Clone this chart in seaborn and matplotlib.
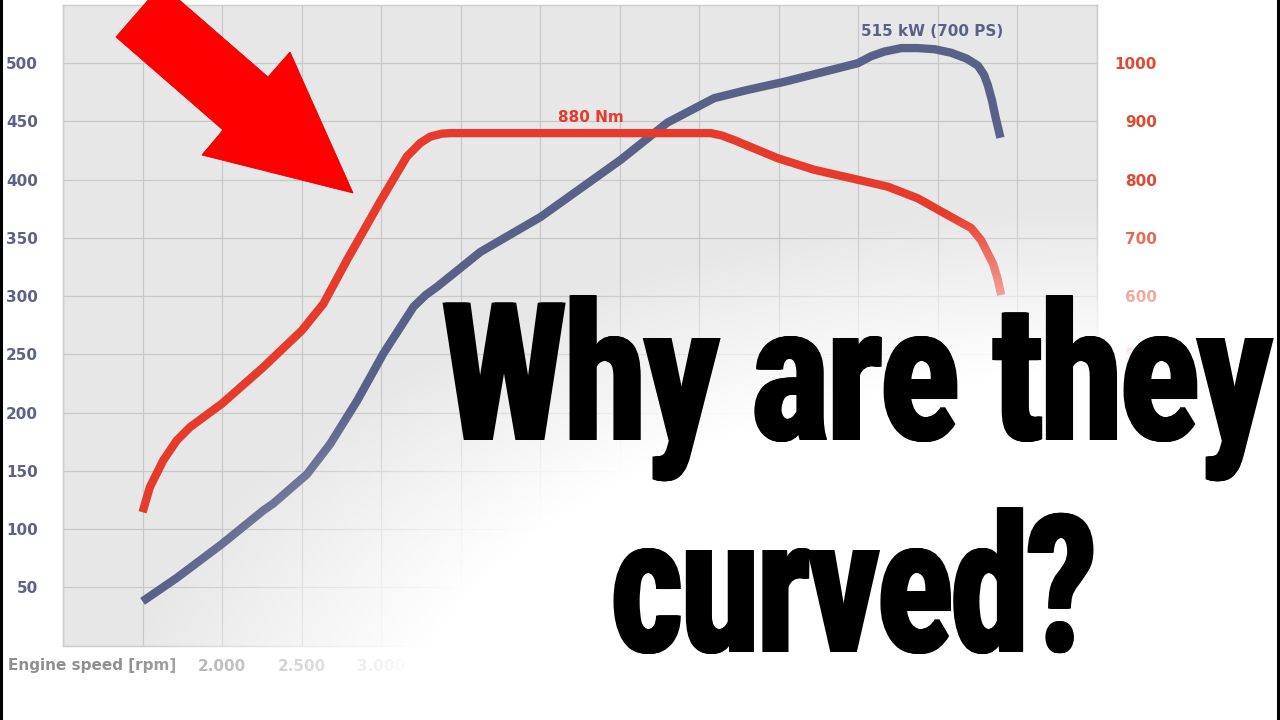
import numpy as np
import matplotlib
matplotlib.use("Agg")
import matplotlib.pyplot as plt
from matplotlib import font_manager
import matplotlib.patheffects as pe
from matplotlib.patches import Polygon, Rectangle
from matplotlib.transforms import Affine2D
import seaborn as sns

# power curve (kW) over engine speed (rpm)
power_rpm = [1500, 1714, 1997, 2259, 2322, 2533, 2679, 2848, 3015, 3204, 3280, 3351, 3624,
             4002, 4505, 4799, 5093, 5300, 5533, 5996, 6080, 6163, 6270, 6374, 6480,
             6583, 6680, 6751, 6790, 6814, 6840, 6860, 6893]
power_kw = [38, 58, 87, 116, 122, 147, 173, 210, 251, 291, 301, 308, 338,
            368, 417, 449, 470, 477, 484, 500, 506, 510, 513, 513, 512,
            509, 504, 498, 490, 481, 468, 455, 436]

# torque curve (Nm) over engine speed (rpm)
torque_rpm = [1500, 1546, 1630, 1714, 1798, 1997, 2259, 2501, 2637, 2785, 2999, 3162, 3246,
              3309, 3380, 3435, 5072, 5140, 5219, 5492, 5723, 5996, 6185, 6374, 6583,
              6709, 6772, 6846, 6875, 6898]
torque_nm = [229, 272, 318, 352, 375, 415, 478, 541, 587, 662, 765, 840, 863,
             874, 879, 880, 880, 876, 868, 837, 817, 800, 788, 768, 736,
             717, 696, 656, 630, 602]

kw_ticks = [50, 100, 150, 200, 250, 300, 350, 400, 450, 500]
nm_ticks = [400, 500, 600, 700, 800, 900, 1000]
rpm_ticks = [1000, 1500, 2000, 2500, 3000, 3500, 4000, 4500, 5000, 5500, 6000, 6500, 7000, 7500]
rpm_labels = ["", "", "2.000", "2.500", "3.000", "3.500", "", "", "", "", "", "", "", ""]

BLUE = "#5a6189"
RED = "#e63b2c"
W, H = 1280, 720

sns.set_style("whitegrid", {"axes.facecolor": "#e7e7e7", "grid.color": "#c8c8c8",
                            "axes.edgecolor": "#cdcdcd"})
plt.rcParams["font.family"] = ["DejaVu Sans"]


def px_rect(x0, y0, x1, y1):
    # picture pixels (y down) -> figure fraction rect
    return [x0 / W, 1 - y1 / H, (x1 - x0) / W, (y1 - y0) / H]


fig = plt.figure(figsize=(12.8, 7.2), dpi=100)
fig.patch.set_facecolor("white")

# --- power axis (left) ---
ax = fig.add_axes(px_rect(63, 5, 1097, 645.6))
ax.set_zorder(1)
sns.lineplot(x=power_rpm, y=power_kw, ax=ax, color=BLUE, linewidth=6,
             solid_capstyle="butt", solid_joinstyle="round")
ax.set_xlim(1000, 7500)
ax.set_ylim(0, 550)
ax.set_xticks(rpm_ticks, labels=rpm_labels)
ax.set_yticks(kw_ticks, labels=[str(v) for v in kw_ticks])
ax.grid(True, color="#c8c8c8", linewidth=0.9)
ax.tick_params(axis="y", length=0, pad=18, labelsize=11, labelcolor="#5d6286")
ax.tick_params(axis="x", length=0, pad=10, labelsize=11, labelcolor="#9c9c9c")
for lab in ax.get_xticklabels() + ax.get_yticklabels():
    lab.set_fontweight("bold")
for s in ax.spines.values():
    s.set_color("#cdcdcd")
    s.set_linewidth(0.9)
ax.set_xlabel("Engine speed [rpm]", fontsize=11, color="#8f8f8f", fontweight="bold",
              ha="left", va="center")
ax.xaxis.set_label_coords(-0.0532, -0.0303)
ax.set_ylabel("")
ax.text(6464, 527, "515 kW (700 PS)", color=BLUE, fontsize=11, fontweight="bold",
        ha="center", va="center")

# --- torque axis (right) ---
ax2 = ax.twinx()
ax2.set_zorder(2)
sns.lineplot(x=torque_rpm, y=torque_nm, ax=ax2, color=RED, linewidth=6,
             solid_capstyle="butt", solid_joinstyle="round")
ax2.set_ylim(0, 1100)
ax2.set_yticks(nm_ticks, labels=[str(v) for v in nm_ticks], ha="right", fontweight="bold")
ax2.grid(False)
ax2.tick_params(axis="y", length=0, pad=43, labelsize=11, labelcolor="#df4a33")
ax2.set_ylabel("")
for s in ax2.spines.values():
    s.set_color("#cdcdcd")
    s.set_linewidth(0.9)
ax2.text(4317, 906, "880 Nm", color=RED, fontsize=11, fontweight="bold",
         ha="center", va="center")

# --- white glow behind the headline, arrow, side bars ---
ov = fig.add_axes([0, 0, 1, 1])
ov.set_zorder(3)
ov.axis("off")
yy, xx = np.mgrid[0:H, 0:W]
dist = np.hypot((xx - 1100) / 1.69, yy - 800)
glow = np.ones((H, W, 4))
glow[..., 3] = np.clip((595 - dist) / 167, 0, 1)
ov.imshow(glow, extent=(0, W, H, 0), aspect="auto", interpolation="bilinear", zorder=1)
ov.set_xlim(0, W)
ov.set_ylim(H, 0)

arrow = [(116, 37), (161.6, -15.4), (268, 77), (290, 52), (353, 193), (202, 155), (223, 130)]
ov.add_patch(Polygon(arrow, closed=True, facecolor="#ff0000", edgecolor="#e00000",
                     linewidth=0.6, zorder=5, clip_on=False))
ov.add_patch(Rectangle((0, 0), 3, H, facecolor="black", edgecolor="none", zorder=6))
ov.add_patch(Rectangle((W - 3, 0), 3, H, facecolor="black", edgecolor="none", zorder=6))


# --- headline ---
class Squeeze(pe.AbstractPathEffect):
    """Condense glyphs horizontally around x0 and smear them sideways (heavier stems)."""

    def __init__(self, x0, sx, smear):
        super().__init__()
        self.x0, self.sx, self.smear = x0, sx, smear

    def draw_path(self, renderer, gc, tpath, affine, rgbFace=None):
        for dx in np.arange(0, self.smear + 0.01, 1.0):
            t = affine + Affine2D().translate(-self.x0, 0).scale(self.sx, 1).translate(self.x0 + dx, 0)
            renderer.draw_path(gc, tpath, t, rgbFace)


def heavy_font():
    fl = font_manager.fontManager.ttflist
    for min_w in (900, 800):
        for fam in ["Roboto", "Lato", "Inter", "Noto Sans", "Open Sans"]:
            for f in fl:
                if (f.name == fam and isinstance(f.weight, int) and f.weight >= min_w
                        and f.style == "normal" and f.stretch == "normal"):
                    return font_manager.FontProperties(fname=f.fname)
    return font_manager.FontProperties(family="DejaVu Sans", weight="bold")


big_fp = heavy_font()
big_fp.set_size(139)

renderer = fig.canvas.get_renderer()
smear = 4
for txt, x0, base, x1 in [("Why are they", 441, 440, 1273), ("curved?", 610, 652, 1098)]:
    t = fig.text(x0 / W, 1 - base / H, txt, fontproperties=big_fp, color="black",
                 ha="left", va="baseline", zorder=10)
    bb = t.get_window_extent(renderer=renderer)
    sx = (x1 - x0 - smear) / bb.width
    t.set_path_effects([Squeeze(bb.x0, sx, smear)])

fig.savefig("out.png", dpi=100)
